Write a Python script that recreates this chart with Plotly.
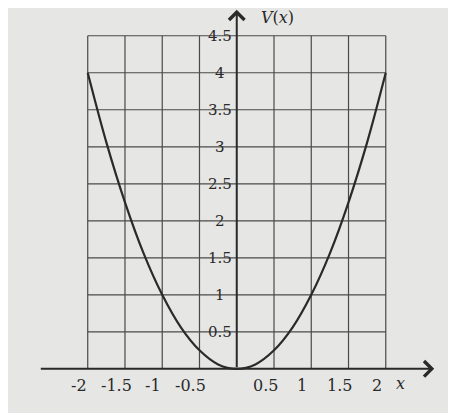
import plotly.graph_objects as go

# values
x_vals = [-2, -1.75, -1.5, -1.25, -1, -0.75, -0.5, -0.25, 0, 0.25, 0.5, 0.75, 1, 1.25, 1.5, 1.75, 2]
v_vals = [4.0, 3.06, 2.25, 1.56, 1.0, 0.56, 0.25, 0.06, 0.0, 0.06, 0.25, 0.56, 1.0, 1.56, 2.25, 3.06, 4.0]
x_ticks = [-2, -1.5, -1, -0.5, 0.5, 1, 1.5, 2]
x_tick_text = ["-2", "-1.5", "-1", "-0.5", "0.5", "1", "1.5", "2"]
y_ticks = [0.5, 1, 1.5, 2, 2.5, 3, 3.5, 4, 4.5]
y_tick_text = ["0.5", "1", "1.5", "2", "2.5", "3", "3.5", "4", "4.5"]

paper = "#e6e6e4"
ink = "#2a2a2a"
grid = "#4a4a4a"
font = "DejaVu Serif"

fig = go.Figure()
fig.add_trace(go.Scatter(x=x_vals, y=v_vals, mode="lines",
                         line=dict(color=ink, width=2.2, shape="spline"),
                         hoverinfo="skip"))

shapes = []
for gx in [-2, -1.5, -1, -0.5, 0.5, 1, 1.5, 2]:
    shapes.append(dict(type="line", x0=gx, x1=gx, y0=0, y1=4.5,
                       line=dict(color=grid, width=1.2), layer="below"))
for gy in y_ticks:
    shapes.append(dict(type="line", x0=-2, x1=2, y0=gy, y1=gy,
                       line=dict(color=grid, width=1.2), layer="below"))

annotations = []
# axes with arrows
annotations.append(dict(x=2.65, y=0, ax=-2.65, ay=0, xref="x", yref="y", axref="x", ayref="y",
                        showarrow=True, arrowhead=4, arrowsize=1.5, arrowwidth=2, arrowcolor=ink, text=""))
annotations.append(dict(x=0, y=4.85, ax=0, ay=0, xref="x", yref="y", axref="x", ayref="y",
                        showarrow=True, arrowhead=4, arrowsize=1.5, arrowwidth=2, arrowcolor=ink, text=""))
for tx, tt in zip(x_ticks, x_tick_text):
    annotations.append(dict(x=tx - 0.12, y=-0.22, text=tt, showarrow=False,
                            font=dict(family=font, size=16, color=ink)))
annotations.append(dict(x=2.2, y=-0.2, text="<i>x</i>", showarrow=False,
                        font=dict(family=font, size=16, color=ink)))
for ty, tt in zip(y_ticks, y_tick_text):
    annotations.append(dict(x=-0.22, y=ty, text=tt, showarrow=False,
                            font=dict(family=font, size=15, color=ink)))
annotations.append(dict(x=0.55, y=4.75, text="<i>V</i>(<i>x</i>)", showarrow=False,
                        font=dict(family=font, size=16, color=ink)))

fig.update_layout(
    width=456, height=413,
    margin=dict(l=0, r=0, t=0, b=0),
    paper_bgcolor=paper, plot_bgcolor=paper,
    showlegend=False,
    xaxis=dict(range=[-3.07, 3.05], visible=False, fixedrange=True),
    yaxis=dict(range=[-0.705, 4.875], visible=False, fixedrange=True),
    shapes=shapes, annotations=annotations,
)

fig.write_html("out.html")
